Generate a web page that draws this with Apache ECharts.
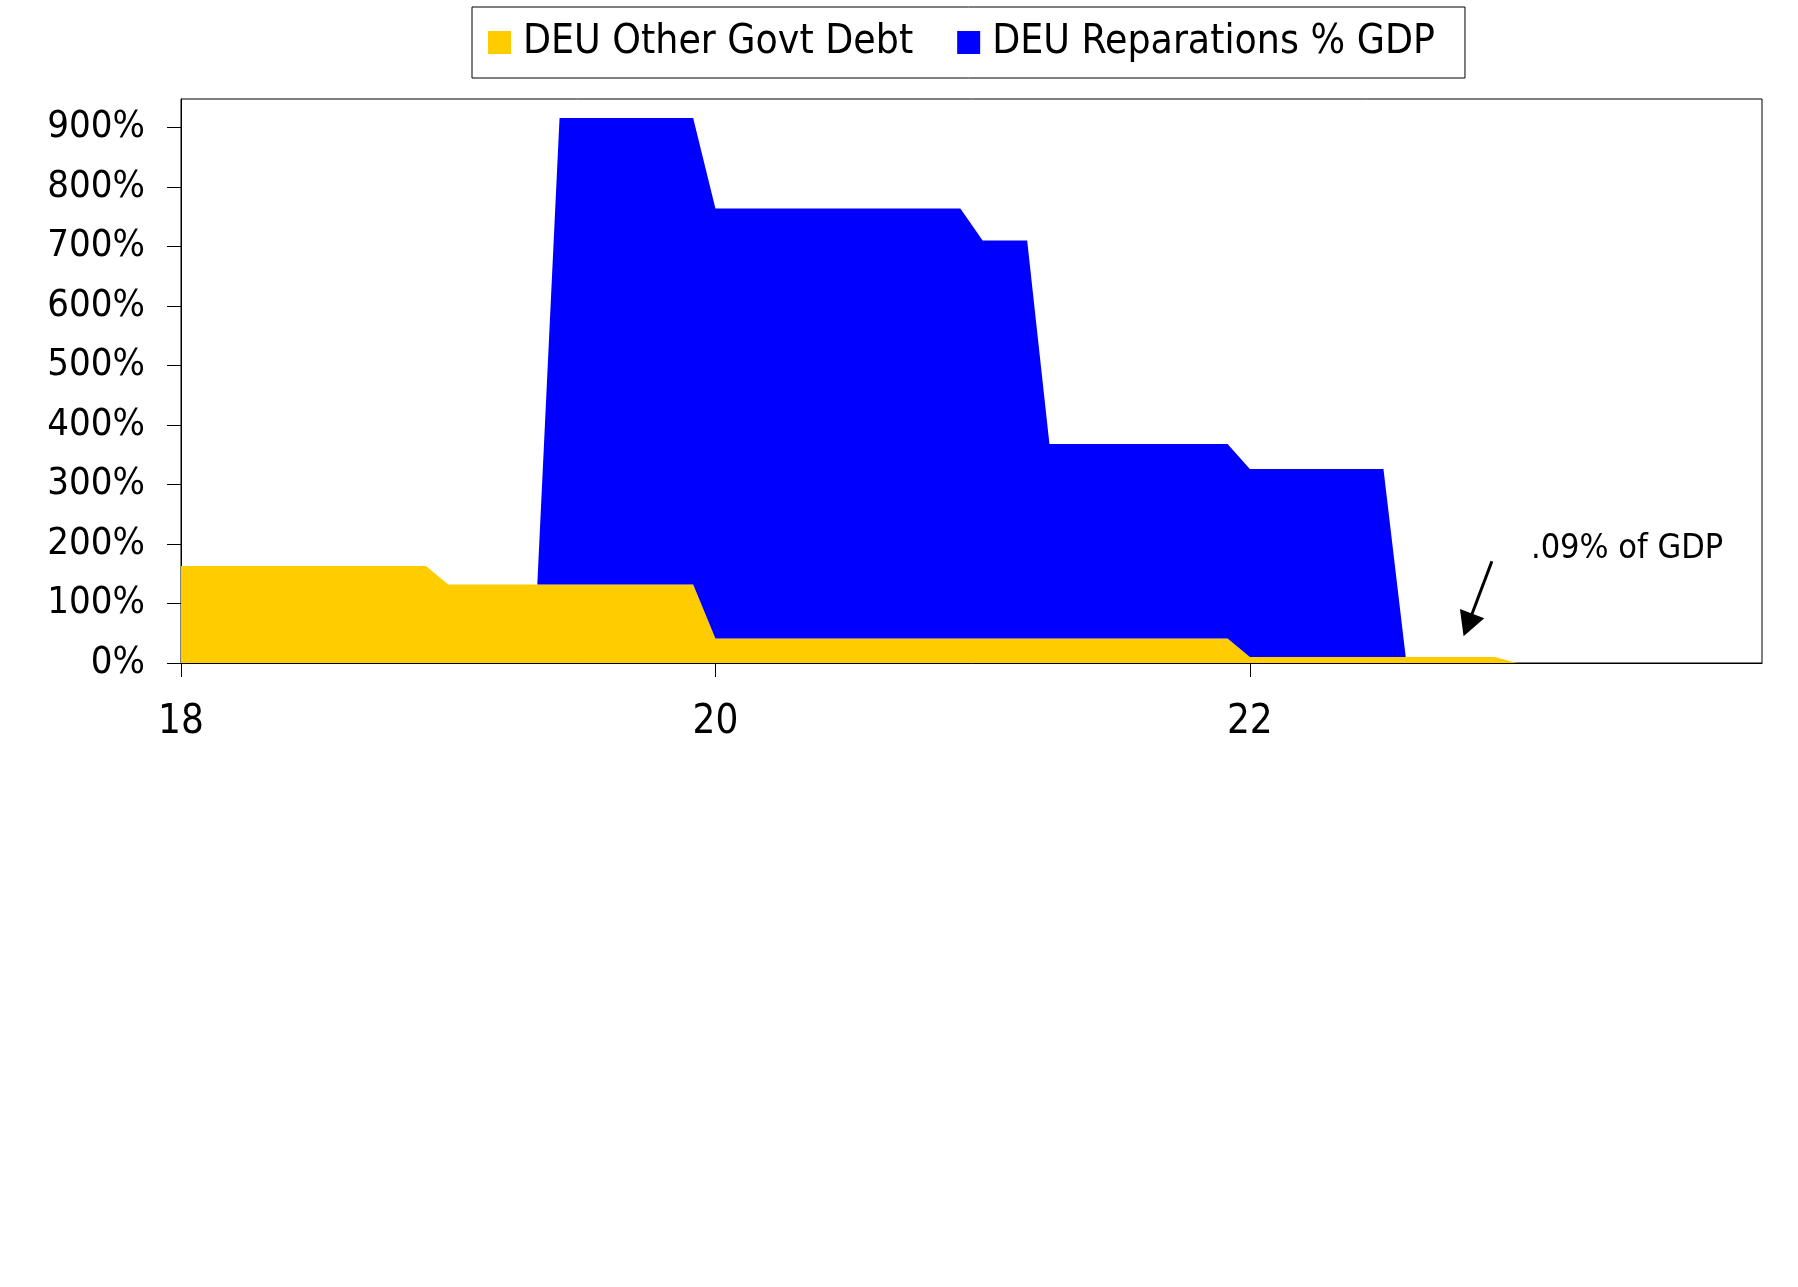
<!DOCTYPE html>
<html>
<head>
<meta charset="utf-8">
<script src="https://cdn.jsdelivr.net/npm/echarts@6/dist/echarts.min.js"></script>
<style>
html,body{margin:0;padding:0;background:#fff;}
#chart{width:1798px;height:1287px;}
</style>
</head>
<body>
<div id="chart"></div>
<script>
// Monthly observations, Jan 1918 .. Dec 1923
const months = [];
['1918','1919','1920','1921','1922','1923'].forEach(function (y) {
  ['01','02','03','04','05','06','07','08','09','10','11','12'].forEach(function (m) { months.push(y + '-' + m); });
});
// DEU Other Govt Debt (% GDP), monthly
const otherGovtDebt = [
  163,163,163,163,163,163,163,163,163,163,163,163,
  132,132,132,132,132,132,132,132,132,132,132,132,
  41,41,41,41,41,41,41,41,41,41,41,41,
  41,41,41,41,41,41,41,41,41,41,41,41,
  10,10,10,10,10,10,10,10,10,10,10,10,
  0,0,0,0,0,0,0,0,0,0,0,0
];
// DEU Reparations % GDP (stacked on top), monthly
const reparations = [
  0,0,0,0,0,0,0,0,0,0,0,0,
  0,0,0,0,0,784,784,784,784,784,784,784,
  723,723,723,723,723,723,723,723,723,723,723,723,
  669,669,669,327,327,327,327,327,327,327,327,327,
  316,316,316,316,316,316,316,0,0,0,0,0,
  0,0,0,0,0,0,0,0,0,0,0,0
];
const seriesNames = ['DEU Other Govt Debt', 'DEU Reparations % GDP'];
const xTickIndices = [0, 24, 48];
const xTickLabels = ['18', '20', '22'];
const yTickValues = [0, 100, 200, 300, 400, 500, 600, 700, 800, 900];
const annotationText = '.09% of GDP';
const annotationPos = [60.6, 192];
const arrowFrom = [58.87, 171];
const arrowTo = [57.79, 64];

const FONT = "'DejaVu Sans Condensed', 'DejaVu Sans', sans-serif";
const chart = echarts.init(document.getElementById('chart'), null, {renderer: 'canvas'});

chart.setOption({
  animation: false,
  backgroundColor: '#fff',
  legend: {
    left: 472, top: 7,
    orient: 'horizontal',
    padding: [13, 30, 13, 16],
    itemGap: 44,
    itemWidth: 23, itemHeight: 23,
    icon: 'rect',
    borderColor: '#000', borderWidth: 1,
    textStyle: {fontFamily: FONT, fontSize: 40.5, color: '#000', lineHeight: 45, padding: [0, 0, 0, 7]},
    data: seriesNames
  },
  grid: {
    left: 181, right: 36, top: 99, bottom: 624,
    show: true, borderColor: '#000', borderWidth: 1, backgroundColor: '#fff'
  },
  xAxis: [
    {
      type: 'category', data: months, boundaryGap: false,
      axisLine: {show: true, lineStyle: {color: '#000', width: 1}},
      axisTick: {show: true, length: 14, lineStyle: {color: '#000'},
        interval: function (i) { return xTickIndices.indexOf(i) >= 0; }},
      axisLabel: {
        show: true, margin: 40, fontFamily: FONT, fontSize: 40, color: '#000',
        interval: function (i) { return xTickIndices.indexOf(i) >= 0; },
        formatter: function (v, i) { const k = xTickIndices.indexOf(i); return k >= 0 ? xTickLabels[k] : ''; }
      },
      splitLine: {show: false}
    },
    {
      type: 'value', min: 0, max: months.length - 1, show: false,
      axisLine: {show: false}, axisTick: {show: false}, axisLabel: {show: false}, splitLine: {show: false}
    }
  ],
  yAxis: {
    type: 'value', min: 0, max: 948,
    axisLine: {show: true, lineStyle: {color: '#000', width: 1}},
    axisTick: {show: true, length: 14, lineStyle: {color: '#000'}, customValues: yTickValues},
    axisLabel: {
      show: true, margin: 36, fontFamily: FONT, fontSize: 38, color: '#000',
      customValues: yTickValues,
      formatter: function (v) { return v + '%'; }
    },
    splitLine: {show: false}
  },
  series: [
    {
      name: seriesNames[0], type: 'line', stack: 'total', symbol: 'none', silent: true,
      xAxisIndex: 0,
      color: '#FFCC00',
      lineStyle: {width: 0}, itemStyle: {color: '#FFCC00'},
      areaStyle: {color: '#FFCC00', opacity: 1},
      data: otherGovtDebt
    },
    {
      name: seriesNames[1], type: 'line', stack: 'total', symbol: 'none', silent: true,
      xAxisIndex: 0,
      color: '#0000FF',
      lineStyle: {width: 0}, itemStyle: {color: '#0000FF'},
      areaStyle: {color: '#0000FF', opacity: 1},
      data: reparations
    },
    {
      name: 'annotation', type: 'line', xAxisIndex: 1, silent: true, symbol: 'none',
      data: [], z: 10,
      markLine: {
        silent: true,
        symbol: ['none', 'triangle'],
        symbolSize: [26, 24],
        lineStyle: {color: '#000', width: 3, type: 'solid'},
        label: {show: false},
        emphasis: {disabled: true},
        data: [[{coord: arrowFrom}, {coord: arrowTo}]]
      },
      markPoint: {
        silent: true,
        symbol: 'rect', symbolSize: 1,
        itemStyle: {color: 'rgba(0,0,0,0)'},
        label: {show: true, position: 'right', distance: 0, formatter: annotationText,
          fontFamily: FONT, fontSize: 34, color: '#000'},
        data: [{coord: annotationPos}]
      }
    }
  ]
});
</script>
</body>
</html>
